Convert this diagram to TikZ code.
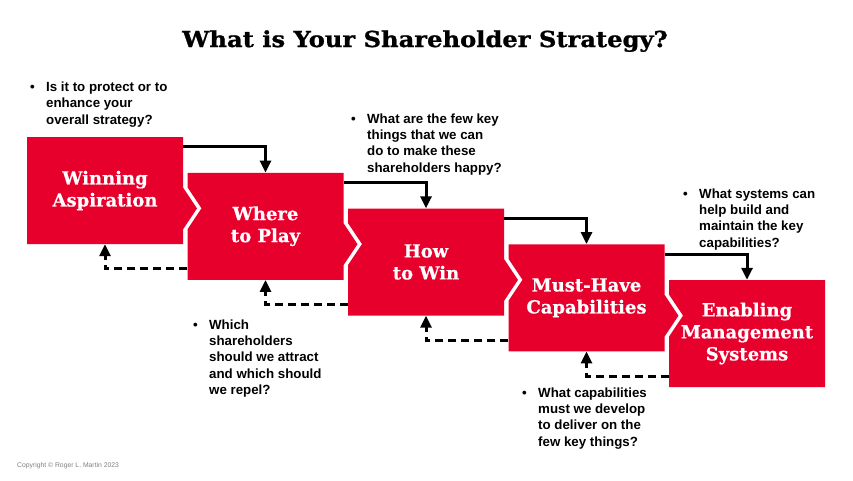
\documentclass[tikz,border=0pt]{standalone}
\usepackage{fontspec}
\setmainfont{Liberation Sans}
\newfontfamily\headfont{DejaVu Serif}[FakeBold=0.6]
\newfontfamily\titlefont{DejaVu Serif}[FakeStretch=1.1,FakeBold=1]
\usetikzlibrary{positioning,calc,arrows.meta}
\definecolor{boxred}{RGB}{232,0,45}
\newcommand{\bulletnote}[1]{\makebox[16pt][l]{\textbullet}\begin{tabular}[t]{@{}l@{}}#1\end{tabular}}

\begin{document}
\begin{tikzpicture}[
		x=1pt,y=-1pt,
		box/.style={
			rectangle,
			minimum width=156pt,
			minimum height=107pt,
			inner sep=0pt,
			align=center,
			text=white,
			font=\headfont\bfseries\fontsize{18}{22}\selectfont,
		},
		note/.style={
			anchor=base west,
			inner sep=0pt,
			font=\bfseries\fontsize{13.3}{16.4}\selectfont,
		},
		flow/.style={line width=3pt},
		back/.style={line width=3pt,dash pattern=on 8pt off 5pt},
		>={Triangle[length=12pt,width=11pt]}
		]
		\useasboundingbox (0,0) rectangle (853,480);
		% Draw the title
		\node[anchor=base,font=\titlefont\bfseries\fontsize{22}{26}\selectfont] (title) at (425,47) {What is Your Shareholder Strategy?};
		% Draw the red boxes with their chevrons
		\foreach \i/\notch/\tip/\txt in {1/0/1/{Winning\\Aspiration},2/1/1/{Where\\to Play},3/1/1/{How\\to Win},4/1/1/{Must-Have\\Capabilities},5/1/0/{Enabling\\Management\\Systems}} {
			\pgfmathsetmacro{\bx}{27+160.5*(\i-1)}
			\pgfmathsetmacro{\by}{137+35.75*(\i-1)}
			\fill[boxred] (\bx,\by) -- ++(156,0) -- ++(0,50.4) -- ++(14*\tip,21) -- ++(-14*\tip,21)
				-- (\bx+156,\by+107) -- (\bx,\by+107) -- (\bx,\by+56.6) -- ++(14*\notch,-21) -- ++(-14*\notch,-21) -- cycle;
			\node[box] (box\i) at (\bx+78,\by+53.5) {\txt};
		}
		% Draw the forward and return arrows
		\foreach \i [evaluate=\i as \j using int(\i+1)] in {1,...,4} {
			\draw[flow,->] ($(box\i.north east)+(0,10)$) -| (box\j.north);
			\draw[back,->] ($(box\j.south west)+(0,-11)$) -| (box\i.south);
		}
		% Draw the questions
		\node[note] (q1) at (30,91.5) {\bulletnote{Is it to protect or to\\enhance your\\overall strategy?}};
		\node[note] (q2) at (351,123) {\bulletnote{What are the few key\\things that we can\\do to make these\\shareholders happy?}};
		\node[note] (q3) at (683,198) {\bulletnote{What systems can\\help build and\\maintain the key\\capabilities?}};
		\node[note] (q4) at (193,329) {\bulletnote{Which\\shareholders\\should we attract\\and which should\\we repel?}};
		\node[note] (q5) at (522,397) {\bulletnote{What capabilities\\must we develop\\to deliver on the\\few key things?}};
		% Draw the copyright line
		\node[anchor=base west,inner sep=0pt,text=gray,font=\fontsize{6.8}{8}\selectfont] (copyright) at (17,467) {Copyright © Roger L. Martin 2023};
	\end{tikzpicture}
\end{document}
